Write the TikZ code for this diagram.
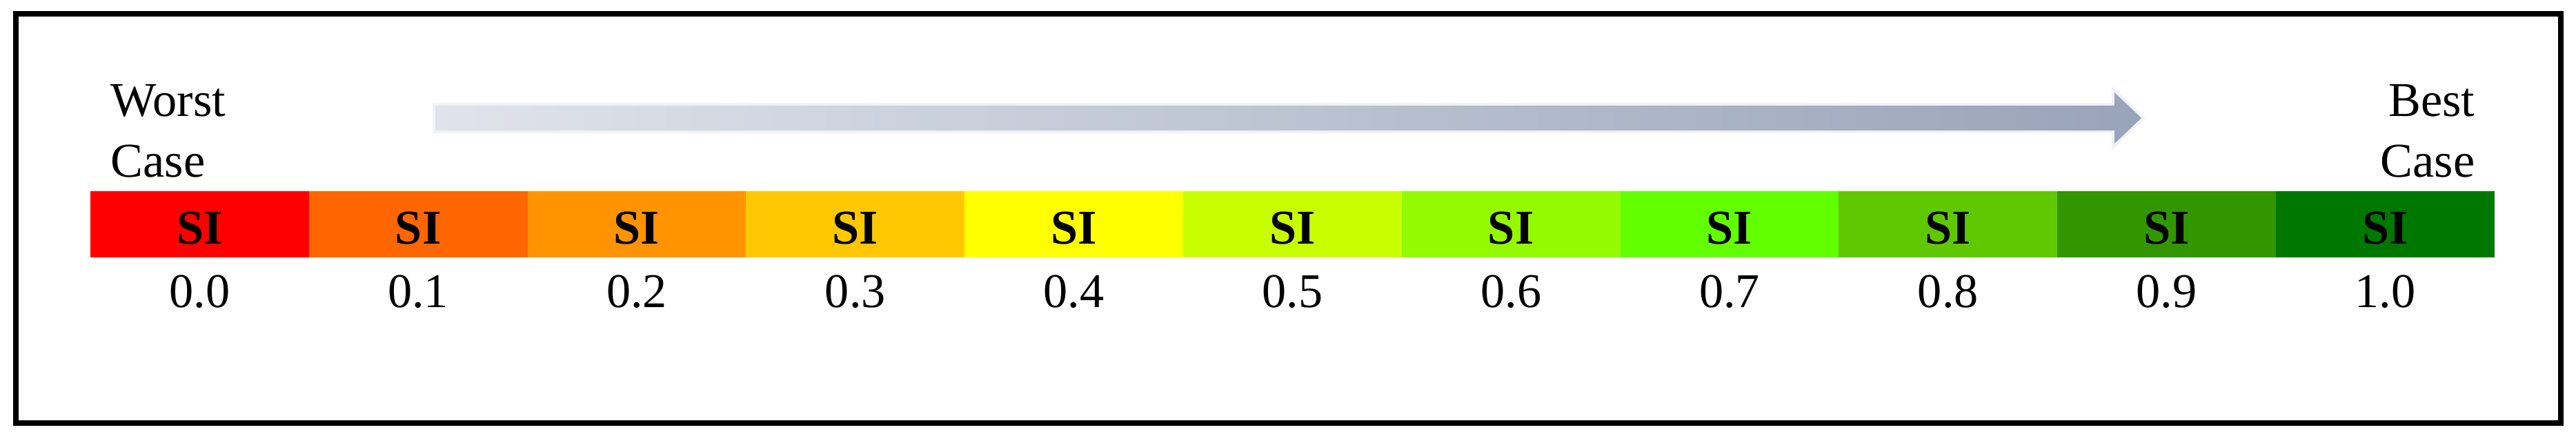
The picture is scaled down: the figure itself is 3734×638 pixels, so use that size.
\documentclass[tikz,border=0pt]{standalone}
\usepackage{fontspec}
\setmainfont{Liberation Serif}
\definecolor{c0}{HTML}{FF0000}
\definecolor{c1}{HTML}{FF6600}
\definecolor{c2}{HTML}{FF9400}
\definecolor{c3}{HTML}{FFC800}
\definecolor{c4}{HTML}{FFFF00}
\definecolor{c5}{HTML}{C8FF00}
\definecolor{c6}{HTML}{94FA00}
\definecolor{c7}{HTML}{62FF00}
\definecolor{c8}{HTML}{60C800}
\definecolor{c9}{HTML}{329600}
\definecolor{c10}{HTML}{007800}
\definecolor{arrowL}{HTML}{E0E3EA}
\definecolor{arrowR}{HTML}{98A4BA}
\definecolor{arrowGlow}{HTML}{F1F2F5}
\tikzset{
  cell/.style={fill=#1, draw=none},
  silabel/.style={font=\fontsize{20}{24}\selectfont\bfseries, inner sep=0pt, anchor=base},
  numlabel/.style={font=\fontsize{20}{24}\selectfont, inner sep=0pt, anchor=base},
  caselabel/.style={font=\fontsize{20}{24}\selectfont, inner sep=0pt},
}
\begin{document}
\begin{tikzpicture}[x=0.01cm,y=-0.01cm]
\useasboundingbox (0,0) rectangle (3734,638);
\fill[white] (0,0) rectangle (3734,638);
\draw[line width=8.5*0.01cm] (23,20) rectangle (3712,613);
% arrow
\coordinate (atail1) at (631,153);
\coordinate (atail2) at (631,189);
\coordinate (atip) at (3104,171);
\draw[arrowGlow, line width=0.08cm]
  (atail1) -- (3065,153) -- (3065,134) -- (atip) -- (3065,208) -- (3065,189) -- (atail2) -- cycle;
\shade[left color=arrowL, right color=arrowR]
  (atail1) -- (3065,153) -- (3065,134) -- (atip) -- (3065,208) -- (3065,189) -- (atail2) -- cycle;
% scale
\foreach \i/\v in {0/0.0,1/0.1,2/0.2,3/0.3,4/0.4,5/0.5,6/0.6,7/0.7,8/0.8,9/0.9,10/1.0}{
  \pgfmathsetmacro{\xa}{131+\i*316.8}
  \pgfmathsetmacro{\xb}{131+(\i+1)*316.8}
  \pgfmathsetmacro{\xm}{131+(\i+0.5)*316.8}
  \fill[cell=c\i] (\xa,277) rectangle (\xb,373);
  \node[silabel] (si\i) at (\xm,353) {SI};
  \node[numlabel] (n\i) at (\xm,445) {\v};
}
\node[caselabel, anchor=base west] (worst) at (160,168) {Worst};
\node[caselabel, anchor=base west] (worstcase) at (160,256) {Case};
\node[caselabel, anchor=base east] (best) at (3588,168) {Best};
\node[caselabel, anchor=base east] (bestcase) at (3588,256) {Case};
\end{tikzpicture}
\end{document}
